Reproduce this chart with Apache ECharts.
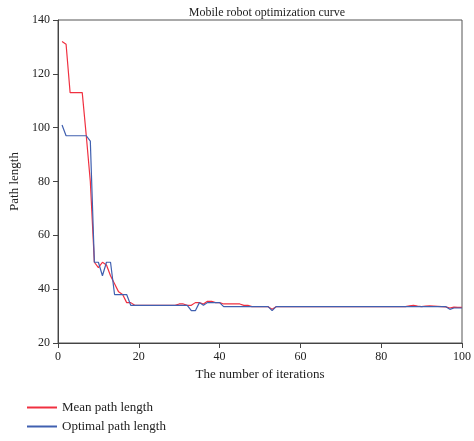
<!DOCTYPE html><html><head><meta charset="utf-8">
<script src="https://cdn.jsdelivr.net/npm/echarts@6/dist/echarts.min.js"></script>
<style>body{margin:0}#c{width:474px;height:441px}</style></head><body><div id="c"></div>
<script>
const iterations = Array.from({length:100},(_,i)=>i+1);
const meanHead = [132,131,113,113,113,113,97,80,50,48,50,49,45,42,39,38,35,35,34,34,34,34,34,34,34,34,34,34,34,34.5,34.5,34,34,35,35,34.5,35.5,35.5,35,35,34.5,34.5,34.5,34.5,34.5,34,34,33.5,33.5,33.5,33.5,33.5,32.5,33.5];
const meanTail = [33.5,33.5,33.5,33.5,33.5,33.5,33.5,33.5,33.5,33.5,33.5,33.5,33.5,33.5,33.5,33.5,33.5,33.5,33.5,33.5,33.5,33.5,33.5,33.5,33.5,33.5,33.5,33.5,33.5,33.5,33.5,33.5,33.8,34,33.7,33.5,33.7,33.8,33.7,33.6,33.5,33.4,33,33.3,33.2,33.2];
const optHead = [101,97,97,97,97,97,97,95,50,50,45,50,50,38,38,38,38,34,34,34,34,34,34,34,34,34,34,34,34,34,34,34,32,32,35,34,35,35,35,35,33.5,33.5,33.5,33.5,33.5,33.5,33.5,33.5,33.5,33.5,33.5,33.5,32,33.5];
const optTail = [33.5,33.5,33.5,33.5,33.5,33.5,33.5,33.5,33.5,33.5,33.5,33.5,33.5,33.5,33.5,33.5,33.5,33.5,33.5,33.5,33.5,33.5,33.5,33.5,33.5,33.5,33.5,33.5,33.5,33.5,33.5,33.5,33.5,33.5,33.5,33.5,33.5,33.5,33.5,33.5,33.5,33.5,32.5,33,33,33];
const meanPath = meanHead.concat(meanTail);
const optPath = optHead.concat(optTail);
const xTicks=[0,20,40,60,80,100], yTicks=[20,40,60,80,100,120,140];
const font='Liberation Serif';
const c=echarts.init(document.getElementById('c'));
c.setOption({
 animation:false,
 textStyle:{fontFamily:font},
 title:{text:'Mobile robot optimization curve',left:262,top:2,textAlign:'center',textStyle:{fontFamily:font,fontSize:12,fontWeight:'normal',color:'#222'}},
 grid:{left:58,right:11,top:20,bottom:98,show:true,borderColor:'#555',borderWidth:1,backgroundColor:'transparent'},
 xAxis:{type:'value',min:0,max:100,interval:20,name:'The number of iterations',nameLocation:'middle',nameGap:22,
  nameTextStyle:{fontFamily:font,fontSize:13,color:'#222'},
  axisLine:{lineStyle:{color:'#444'}},axisTick:{inside:false,lineStyle:{color:'#444'}},
  axisLabel:{fontFamily:font,fontSize:12,color:'#222'},splitLine:{show:false}},
 yAxis:{type:'value',min:20,max:140,interval:20,name:'Path length',nameLocation:'middle',nameGap:34,
  nameTextStyle:{fontFamily:font,fontSize:13,color:'#222'},
  axisLine:{show:true,lineStyle:{color:'#444'}},axisTick:{show:true,lineStyle:{color:'#444'}},
  axisLabel:{fontFamily:font,fontSize:12,color:'#222'},splitLine:{show:false}},
 legend:{orient:'vertical',left:22,top:396,itemGap:6,itemWidth:30,itemHeight:2,icon:'rect',
  textStyle:{fontFamily:font,fontSize:13,color:'#222'},
  data:['Mean path length','Optimal path length']},
 series:[
  {name:'Mean path length',type:'line',data:iterations.map((x,i)=>[x,meanPath[i]]),showSymbol:false,lineStyle:{color:'#f03040',width:1.2},itemStyle:{color:'#f03040'}},
  {name:'Optimal path length',type:'line',data:iterations.map((x,i)=>[x,optPath[i]]),showSymbol:false,lineStyle:{color:'#4060b0',width:1.2},itemStyle:{color:'#4060b0'}}
 ]
});
</script></body></html>
